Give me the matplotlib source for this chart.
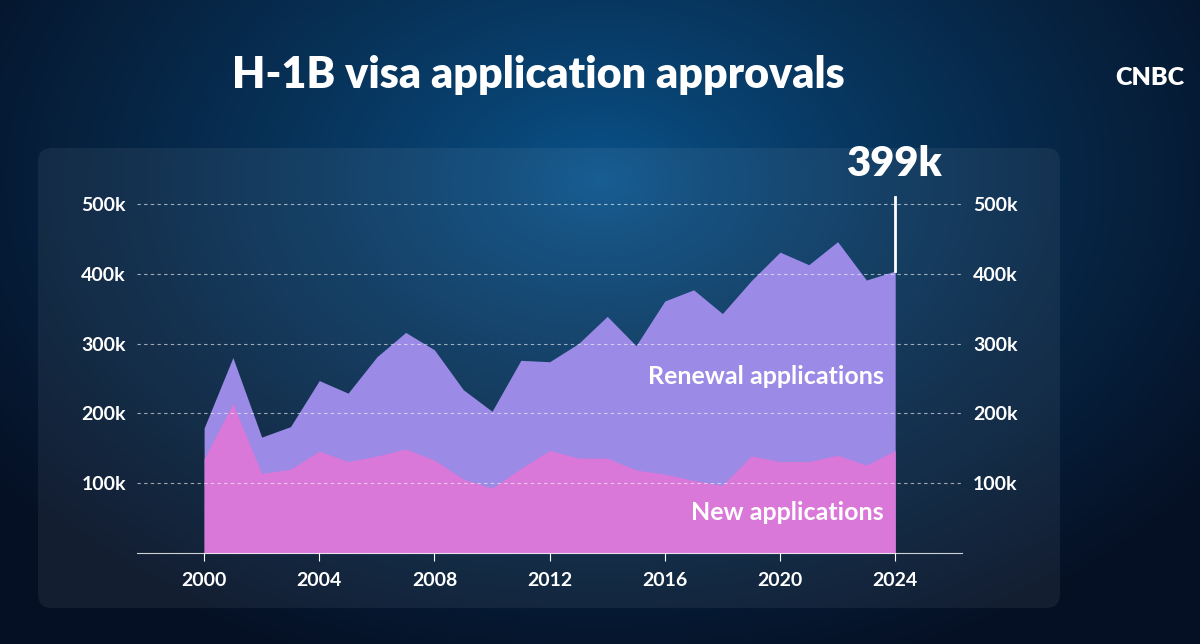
import matplotlib
matplotlib.use("Agg")
import matplotlib.pyplot as plt
import numpy as np
from matplotlib.patches import FancyBboxPatch

years = list(range(2000, 2025))
total = [179, 280, 166, 181, 247, 229, 281, 316, 291, 234, 203, 276, 274, 300, 339,
         297, 361, 377, 343, 390, 431, 413, 446, 391, 404]
new = [135, 214, 114, 120, 146, 131, 139, 149, 133, 106, 93, 121, 147, 136, 136,
       119, 113, 104, 97, 139, 131, 131, 140, 126, 147]
yticks = [100, 200, 300, 400, 500]
xticks = [2000, 2004, 2008, 2012, 2016, 2020, 2024]

plt.rcParams['font.family'] = ['Lato', 'DejaVu Sans']
fig = plt.figure(figsize=(12, 6.44), dpi=100)

bg = fig.add_axes([0, 0, 1, 1])
yy, xx = np.mgrid[0:644, 0:1200]
d = np.sqrt(((xx - 600) / 750) ** 2 + ((yy - 180) / 520) ** 2)
t = np.clip(d, 0, 1) ** 0.8
c0 = np.array([0x0a, 0x55, 0x8e]) / 255
c1 = np.array([0x05, 0x10, 0x24]) / 255
img = c0[None, None, :] * (1 - t[..., None]) + c1[None, None, :] * t[..., None]
bg.imshow(img, extent=[0, 1200, 644, 0], aspect='auto')
bg.set_xlim(0, 1200); bg.set_ylim(644, 0); bg.axis('off')
bg.add_patch(FancyBboxPatch((38, 148), 1022, 460, boxstyle="round,pad=0,rounding_size=14",
                            fc='white', alpha=0.06, ec='none'))
bg.text(538, 75, "H-1B visa application approvals", color='white', fontsize=31,
        fontweight='heavy', ha='center', va='center')
bg.text(1150, 78, "CNBC", color='white', fontsize=18, fontweight='heavy', ha='center', va='center')

ax = fig.add_axes([137 / 1200, 1 - 553 / 644, (962 - 137) / 1200, (553 - 190) / 644])
ax.set_facecolor('none')
yrs = np.array(years)
ax.fill_between(yrs, 0, total, color='#9b8ae6', lw=0)
ax.fill_between(yrs, 0, new, color='#d978d8', lw=0)
ax.set_xlim(1997.67, 2026.32)
ax.set_ylim(0, 520)
for v in yticks:
    ax.axhline(v, color='white', lw=0.8, ls=(0, (3, 3)), alpha=0.6, zorder=3)
for s in ['top', 'right', 'left']:
    ax.spines[s].set_visible(False)
ax.spines['bottom'].set_color('white')
ax.spines['bottom'].set_alpha(0.8)
ax.set_yticks(yticks)
ax.set_yticklabels([f"{v}k" for v in yticks])
ax.set_xticks(xticks)
ax.tick_params(axis='x', colors='white', labelsize=14, length=6, pad=8)
ax.tick_params(axis='y', colors='white', labelsize=14, length=0, labelright=True, pad=8)
for lab in ax.get_xticklabels():
    lab.set_fontweight('bold')
for t_ in ax.yaxis.get_major_ticks():
    t_.label1.set_fontweight('bold')
    t_.label2.set_fontweight('bold')
ax.plot([2024, 2024], [404, 510], color='white', lw=2, zorder=4)
ax.text(2024, 530, "399k", color='white', fontsize=30, fontweight='heavy', ha='center', va='bottom')
ax.text(2023.6, 253, "Renewal applications", color='white', fontsize=18, fontweight='bold', ha='right', va='center')
ax.text(2023.6, 58, "New applications", color='white', fontsize=18, fontweight='bold', ha='right', va='center')

fig.savefig("out.png", dpi=100)
